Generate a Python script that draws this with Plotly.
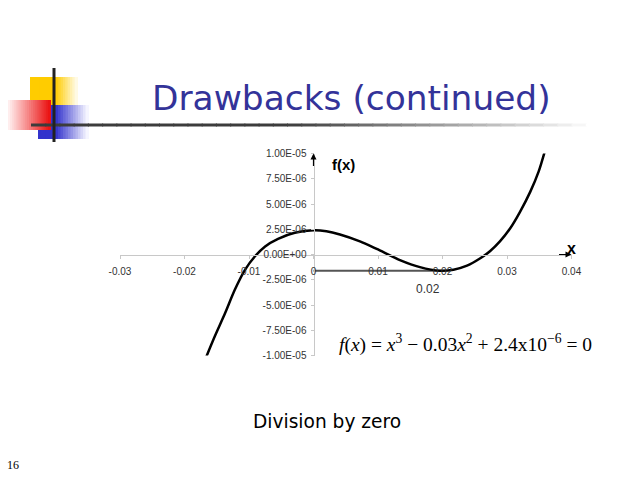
import plotly.graph_objects as go

# ---- data ----
curve_x = [-0.0166, -0.0153, -0.0137, -0.0122, -0.0106, -0.0091, -0.0075, -0.0055, -0.0029,
           0.0, 0.0020, 0.0041, 0.0072, 0.0098, 0.0134, 0.0165, 0.0196, 0.0217, 0.0238,
           0.0258, 0.0274, 0.0289, 0.0305, 0.0320, 0.0336, 0.0349, 0.0359]
curve_y = [-10.1e-6, -8.1e-6, -5.8e-6, -3.5e-6, -1.5e-6, -0.2e-6, 0.8e-6, 1.55e-6, 2.15e-6,
           2.4e-6, 2.3e-6, 1.98e-6, 1.3e-6, 0.55e-6, -0.55e-6, -1.25e-6, -1.6e-6, -1.5e-6, -1.1e-6,
           -0.4e-6, 0.35e-6, 1.3e-6, 2.6e-6, 4.2e-6, 6.2e-6, 8.2e-6, 10.3e-6]
seg_x = [0.0, 0.02]
seg_y = [-1.6e-6, -1.6e-6]
x_ticks = [-0.03, -0.02, -0.01, 0.0, 0.01, 0.02, 0.03, 0.04]
x_tick_text = ["-0.03", "-0.02", "-0.01", "0", "0.01", "0.02", "0.03", "0.04"]
y_ticks = [1e-5, 7.5e-6, 5e-6, 2.5e-6, 0.0, -2.5e-6, -5e-6, -7.5e-6, -1e-5]
y_tick_text = ["1.00E-05", "7.50E-06", "5.00E-06", "2.50E-06", "0.00E+00",
               "-2.50E-06", "-5.00E-06", "-7.50E-06", "-1.00E-05"]

W, H = 638, 478
X_RANGE = [-0.03, 0.04]
Y_RANGE = [-1e-5, 1e-5]
xdom = [120 / W, 571.5 / W]
ydom = [1 - 355.5 / H, 1 - 153.5 / H]
ypos = xdom[0] + (0 - X_RANGE[0]) / (X_RANGE[1] - X_RANGE[0]) * (xdom[1] - xdom[0])
xpos = ydom[0] + (0 - Y_RANGE[0]) / (Y_RANGE[1] - Y_RANGE[0]) * (ydom[1] - ydom[0])


def px(x):
    return x / W


def py(y):
    return 1 - y / H


TICKFONT = dict(family="Liberation Sans Narrow, Arial Narrow, Liberation Sans, Arial",
                size=10, color="#333333")

fig = go.Figure()
fig.add_trace(go.Scatter(x=seg_x, y=seg_y, mode="lines",
                         line=dict(color="#555555", width=2), hoverinfo="skip"))
fig.add_trace(go.Scatter(x=curve_x, y=curve_y, mode="lines",
                         line=dict(color="black", width=2.5, shape="spline", smoothing=0.8),
                         hoverinfo="skip"))

fig.update_layout(
    width=W, height=H, showlegend=False,
    margin=dict(l=0, r=0, t=0, b=0, pad=0, autoexpand=False),
    paper_bgcolor="white", plot_bgcolor="white",
    xaxis=dict(domain=xdom, range=X_RANGE, anchor="free", position=xpos,
               showgrid=False, zeroline=False, showline=True, linecolor="#c8c8c8",
               linewidth=1, ticks="outside", ticklen=3, tickcolor="#c8c8c8",
               ticklabelstandoff=4,
               tickvals=x_ticks, ticktext=x_tick_text, tickfont=TICKFONT),
    yaxis=dict(domain=ydom, range=Y_RANGE, anchor="free", position=ypos,
               showgrid=False, zeroline=False, showline=True, linecolor="#c8c8c8",
               linewidth=1, ticks="outside", ticklen=3, tickcolor="#c8c8c8",
               ticklabelstandoff=2,
               tickvals=y_ticks, ticktext=y_tick_text, tickfont=TICKFONT),
)

# ---- decorative logo (paper coords) ----
shapes = []


def lerp(c1, c2, t):
    return "rgb(%d,%d,%d)" % tuple(round(a + (b - a) * t) for a, b in zip(c1, c2))


def grad_rect(x0, y0, x1, y1, c_left, c_right, n=20, start=0.0):
    for i in range(n):
        t = i / (n - 1)
        xa = x0 + (x1 - x0) * i / n
        xb = x0 + (x1 - x0) * (i + 1) / n
        tt = 0 if t < start else (t - start) / (1 - start)
        shapes.append(dict(type="rect", xref="paper", yref="paper",
                           x0=px(xa), x1=px(xb + 1), y0=py(y1), y1=py(y0),
                           line=dict(width=0), fillcolor=lerp(c_left, c_right, tt),
                           layer="above"))


grad_rect(30, 77, 77, 122, (255, 204, 0), (255, 250, 228), start=0.55)
grad_rect(38, 105, 88, 139, (51, 51, 204), (245, 245, 255), start=0.35)
grad_rect(8, 100, 50, 130, (255, 238, 238), (235, 20, 20), start=0.0)

# underline fading to the right
for i in range(40):
    t = i / 39
    xa = 31 + (600 - 31) * i / 40
    xb = 31 + (600 - 31) * (i + 1) / 40
    tt = 0 if t < 0.45 else (t - 0.45) / 0.55
    shapes.append(dict(type="rect", xref="paper", yref="paper",
                       x0=px(xa), x1=px(xb + 1), y0=py(126.5), y1=py(123.5),
                       line=dict(width=0),
                       fillcolor=lerp((60, 60, 60), (255, 255, 255), tt),
                       layer="above"))
shapes.append(dict(type="line", xref="paper", yref="paper", x0=px(54), x1=px(54),
                   y0=py(142), y1=py(68), line=dict(color="#222222", width=3), layer="above"))
fig.update_layout(shapes=shapes)

ann = []
ann.append(dict(text="Drawbacks (continued)", xref="paper", yref="paper",
                x=px(351), y=py(98), showarrow=False, xanchor="center", yanchor="middle",
                font=dict(family="DejaVu Sans, Verdana", size=34.4, color="#333399")))
ann.append(dict(text="Division by zero", xref="paper", yref="paper",
                x=px(327), y=py(421), showarrow=False, xanchor="center", yanchor="middle",
                font=dict(family="DejaVu Sans, Verdana", size=18.6, color="black")))
ann.append(dict(text="16", xref="paper", yref="paper",
                x=px(13), y=py(465), showarrow=False, xanchor="center", yanchor="middle",
                font=dict(family="Liberation Serif, Times New Roman", size=12, color="black")))
ann.append(dict(text="<i>f</i>(<i>x</i>) = <i>x</i><sup>3</sup> − 0.03<i>x</i><sup>2</sup> + 2.4x10<sup>−6</sup> = 0",
                xref="paper", yref="paper", x=px(465), y=py(343), showarrow=False,
                xanchor="center", yanchor="middle",
                font=dict(family="Liberation Serif, Times New Roman", size=19.5, color="black")))
ann.append(dict(text="0.02", xref="paper", yref="paper", x=px(428), y=py(289),
                showarrow=False, xanchor="center", yanchor="middle",
                font=dict(family="Liberation Sans, Arial", size=12, color="#333333")))
ann.append(dict(text="<b>f(x)</b>", xref="paper", yref="paper", x=px(343), y=py(164),
                showarrow=False, xanchor="center", yanchor="middle",
                font=dict(family="Liberation Sans, Arial", size=15, color="black")))
ann.append(dict(text="<b>x</b>", xref="paper", yref="paper", x=px(571), y=py(248),
                showarrow=False, xanchor="center", yanchor="middle",
                font=dict(family="Liberation Sans, Arial", size=16, color="black")))
# axis arrows
ann.append(dict(text="", x=0, y=Y_RANGE[1], xref="x", yref="y", showarrow=True,
                ax=0, ay=14, arrowhead=2, arrowsize=1,
                arrowwidth=1.2, arrowcolor="black", standoff=0))
ann.append(dict(text="", x=X_RANGE[1], y=0, xref="x", yref="y", showarrow=True,
                ax=-14, ay=0, arrowhead=2, arrowsize=1,
                arrowwidth=1.2, arrowcolor="black", standoff=0))
fig.update_layout(annotations=ann)

fig.write_html("out.html", config={"displayModeBar": False},
               post_script="document.body.style.margin='0px';document.body.style.overflow='hidden';")
